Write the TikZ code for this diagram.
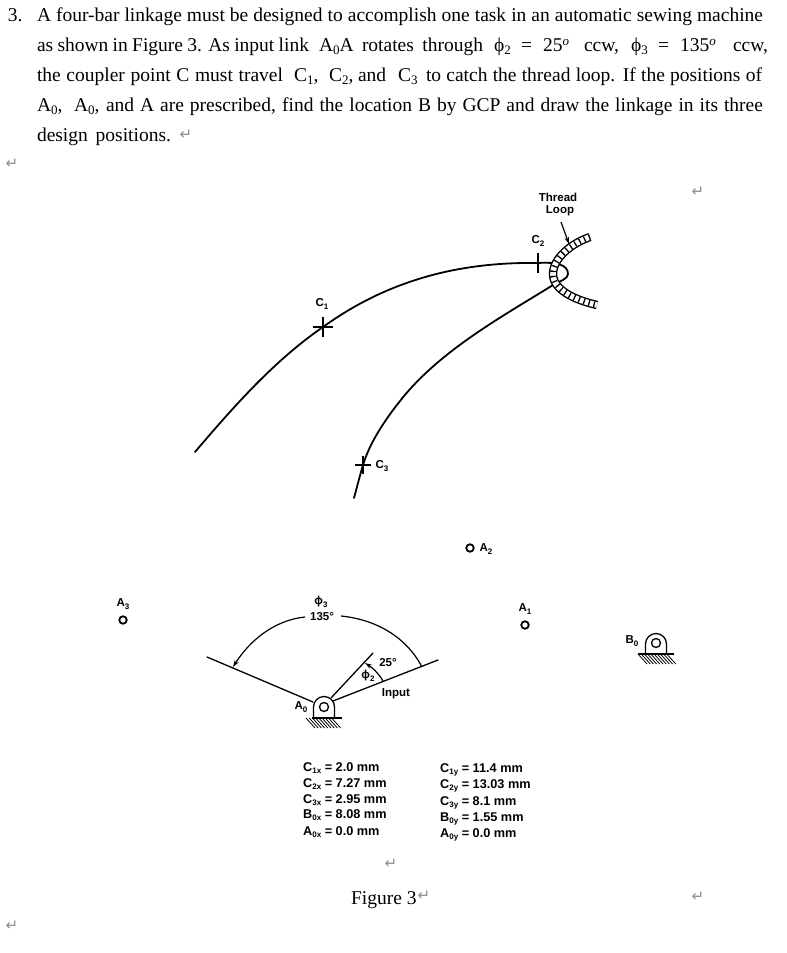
\documentclass[tikz,border=0pt]{standalone}
\usepackage{fontspec}
\setmainfont{Liberation Serif}
\newfontfamily\figfont[BoldFont={Liberation Sans Bold}]{Liberation Sans}
\newfontfamily\markfont{DejaVu Sans}
\usetikzlibrary{arrows.meta}
\newcommand{\bsub}[1]{\raisebox{-3pt}{\fontsize{13}{13}\selectfont #1}}
\newcommand{\fsub}[1]{\raisebox{-2.2pt}{\fontsize{8}{8}\selectfont #1}}
\newcommand{\seg}[5]{\node[bodytext] (#1) at (#2,#3) {\makebox[#4pt][s]{#5}};}
\newcommand{\lone}[4]{\node[bodytext] (#1) at (#2,#3) {#4};}
\newcommand{\retmark}[3]{\node[retstyle] (#1) at (#2,#3) {↵};}
\newcommand{\flab}[4]{\node[figlabel] (#1) at (#2,#3) {#4};}
\newcommand{\frow}[4]{\node[figrow] (#1) at (#2,#3) {#4};}
\newcommand{\pivothatch}[3]{%
  \foreach \k in {0,...,#3}{\draw[hatch] ({#1+\k*3.2},#2) -- ({#1+\k*3.2+9},{#2+10});}}
\tikzset{
  bodytext/.style={anchor=base west,inner sep=0pt,outer sep=0pt,font=\fontsize{19.5}{19.5}\selectfont},
  retstyle/.style={inner sep=0pt,text=black!45,font=\markfont\fontsize{15}{15}\selectfont},
  figlabel/.style={inner sep=0pt,font=\figfont\bfseries\fontsize{11.5}{11.5}\selectfont},
  figrow/.style={anchor=base west,inner sep=0pt,font=\figfont\bfseries\fontsize{12.7}{12.7}\selectfont},
  curveline/.style={line width=1.8pt,line cap=round},
  thinline/.style={line width=1.2pt},
  armline/.style={line width=1.3pt,line cap=round},
  tick/.style={line width=1.4pt},
  pinmark/.style={line width=1.8pt,draw=black,fill=white},
  hatch/.style={line width=0.8pt},
  tip/.style={-{Stealth[length=7pt,width=4.5pt]}}
}
\begin{document}
\begin{tikzpicture}[x=1pt,y=-1pt]
\useasboundingbox[fill=white] (0,0) rectangle (787,953);
% problem text
\lone{num}{8}{21}{3.}
\seg{l1}{37}{21}{726}{A four-bar linkage must be designed to accomplish one task in an automatic sewing machine}
\seg{l2a}{37}{51}{272}{as shown in Figure 3. As input link}
\lone{l2b}{319}{51}{A\bsub{0}A}
\seg{l2c}{362}{51}{121}{rotates through}
\lone{l2d}{494}{51}{ϕ\bsub{2}}
\lone{l2e}{521}{51}{=}
\lone{l2f}{543}{51}{25\raisebox{6pt}{\fontsize{13}{13}\selectfont\itshape o}}
\lone{l2g}{584}{51}{ccw,}
\lone{l2h}{631}{51}{ϕ\bsub{3}}
\lone{l2i}{658}{51}{=}
\lone{l2j}{680}{51}{135\raisebox{6pt}{\fontsize{13}{13}\selectfont\itshape o}}
\lone{l2k}{733}{51}{ccw,}
\seg{l3a}{37}{81}{246}{the coupler point C must travel}
\lone{l3b}{294}{81}{C\bsub{1},}
\lone{l3c}{329}{81}{C\bsub{2},}
\lone{l3d}{358}{81}{and}
\lone{l3e}{398}{81}{C\bsub{3}}
\seg{l3f}{426}{81}{336}{to catch the thread loop. If the positions of}
\lone{l4a}{37}{111}{A\bsub{0},}
\lone{l4b}{74}{111}{A\bsub{0},}
\seg{l4c}{106}{111}{657}{and A are prescribed, find the location B by GCP and draw the linkage in its three}
\seg{l5}{37}{141}{134}{design positions.}
\retmark{r1}{186}{135}
\retmark{r2}{12}{164}
\retmark{r3}{698}{192}
\retmark{r4}{391}{864}
\retmark{r5}{424}{896}
\retmark{r6}{698}{897}
\retmark{r7}{12}{926}
% curves
\coordinate (curveA) at (195,452);
\coordinate (cone) at (323,327);
\coordinate (ctwo) at (538,263);
\coordinate (ctip) at (568,274);
\coordinate (cback) at (553,285);
\coordinate (cthree) at (363,465);
\coordinate (curveB) at (354,498);
\draw[curveline] (curveA) .. controls (235,405) and (275,360) .. (cone)
  .. controls (395,275) and (470,262) .. (ctwo)
  .. controls (555,262) and (568,264) .. (ctip)
  .. controls (568,279) and (560,281) .. (cback)
  .. controls (505,315) and (440,350) .. (400,401)
  .. controls (385,420) and (370,442) .. (cthree)
  .. controls (360,475) and (357,487) .. (curveB);
% crosses
\draw[tick] (313,327) -- (333,327) (323,317) -- (323,337);
\draw[tick] (355,465) -- (371,465) (363,456) -- (363,474);
\draw[tick] (538,253) -- (538,273);
% thread loop
\coordinate (loopA) at (590,237);
\coordinate (loopB) at (597,305);
\draw[line width=8.4pt] (loopA) .. controls (572,243) and (553,258) .. (553,274) .. controls (553,290) and (575,300) .. (loopB);
\draw[line width=5.6pt,white] (loopA) .. controls (572,243) and (553,258) .. (553,274) .. controls (553,290) and (575,300) .. (loopB);
\draw[line width=5.6pt,dash pattern=on 1.3pt off 3.9pt] (loopA) .. controls (572,243) and (553,258) .. (553,274) .. controls (553,290) and (575,300) .. (loopB);
\coordinate (arrowS) at (561,222);
\coordinate (arrowE) at (569,244);
\draw[thinline,tip] (arrowS) -- (arrowE);
\flab{thread}{558}{197}{Thread}
\flab{loop}{560}{211}{Loop}
\flab{lc1}{322}{304}{C\fsub{1}}
\flab{lc2}{538}{241}{C\fsub{2}}
\flab{lc3}{382}{466}{C\fsub{3}}
% moving pivots
\node[draw,circle,pinmark,minimum size=7.5pt,inner sep=0pt] (a2) at (470,548) {};
\flab{la2}{486}{549}{A\fsub{2}}
\node[draw,circle,pinmark,minimum size=7.5pt,inner sep=0pt] (a3) at (123,620) {};
\flab{la3}{123}{604}{A\fsub{3}}
\node[draw,circle,pinmark,minimum size=7.5pt,inner sep=0pt] (a1) at (525,625) {};
\flab{la1}{525}{609}{A\fsub{1}}
% B0 pivot
\node[draw,circle,line width=1.3pt,minimum size=9pt,inner sep=0pt] (b0) at (656,643) {};
\draw[line width=1.5pt] (638,654) -- (674,654);
\draw[line width=1.3pt] (645.5,654) -- (645.5,644) arc[start angle=180,end angle=0,radius=10.5pt] -- (666.5,654);
\pivothatch{638}{654}{9}
\flab{lb0}{632}{641}{B\fsub{0}}
% A0 pivot and angle construction
\node[draw,circle,line width=1.3pt,minimum size=9pt,inner sep=0pt] (a0) at (324,707) {};
\coordinate (leftS) at (313,702);
\coordinate (leftE) at (207,657);
\coordinate (rightS) at (333,701);
\coordinate (rightE) at (438,660);
\coordinate (midS) at (331,698);
\coordinate (midE) at (373,653);
\draw[armline] (leftS) -- (leftE);
\draw[armline] (rightS) -- (rightE);
\draw[armline] (midS) -- (midE);
\draw[line width=1.5pt] (312,718) -- (342,718);
\draw[line width=1.3pt] (313.5,718) -- (313.5,707) arc[start angle=180,end angle=0,radius=10.5pt] -- (334.5,718);
\pivothatch{306}{718}{8}
\coordinate (bigL) at (233,667);
\coordinate (bigR) at (422,667);
\coordinate (gapL) at (305,617);
\coordinate (gapR) at (341,616);
\draw[thinline,tip] (gapL) .. controls (275,620) and (250,640) .. (bigL);
\draw[thinline] (gapR) .. controls (380,620) and (408,640) .. (bigR);
\coordinate (smallS) at (383,681);
\coordinate (smallE) at (365,663);
\draw[thinline,tip] (smallS) .. controls (379,674) and (373,668) .. (smallE);
\flab{phi3}{321}{602}{ϕ\fsub{3}}
\flab{d135}{322}{617}{135°}
\flab{d25}{388}{663}{25°}
\flab{phi2}{368}{676}{ϕ\fsub{2}}
\flab{input}{396}{694}{Input}
\flab{la0}{301}{707}{A\fsub{0}}
% data table
\frow{t1}{303}{771}{C\fsub{1x} = 2.0 mm}
\frow{t2}{303}{787}{C\fsub{2x} = 7.27 mm}
\frow{t3}{303}{803}{C\fsub{3x} = 2.95 mm}
\frow{t4}{303}{818}{B\fsub{0x} = 8.08 mm}
\frow{t5}{303}{835}{A\fsub{0x} = 0.0 mm}
\frow{u1}{440}{772}{C\fsub{1y} = 11.4 mm}
\frow{u2}{440}{788}{C\fsub{2y} = 13.03 mm}
\frow{u3}{440}{805}{C\fsub{3y} = 8.1 mm}
\frow{u4}{440}{821}{B\fsub{0y} = 1.55 mm}
\frow{u5}{440}{837}{A\fsub{0y} = 0.0 mm}
\node[bodytext,font=\fontsize{19.5}{20}\selectfont] (figcap) at (351,904) {Figure 3};
\end{tikzpicture}
\end{document}
